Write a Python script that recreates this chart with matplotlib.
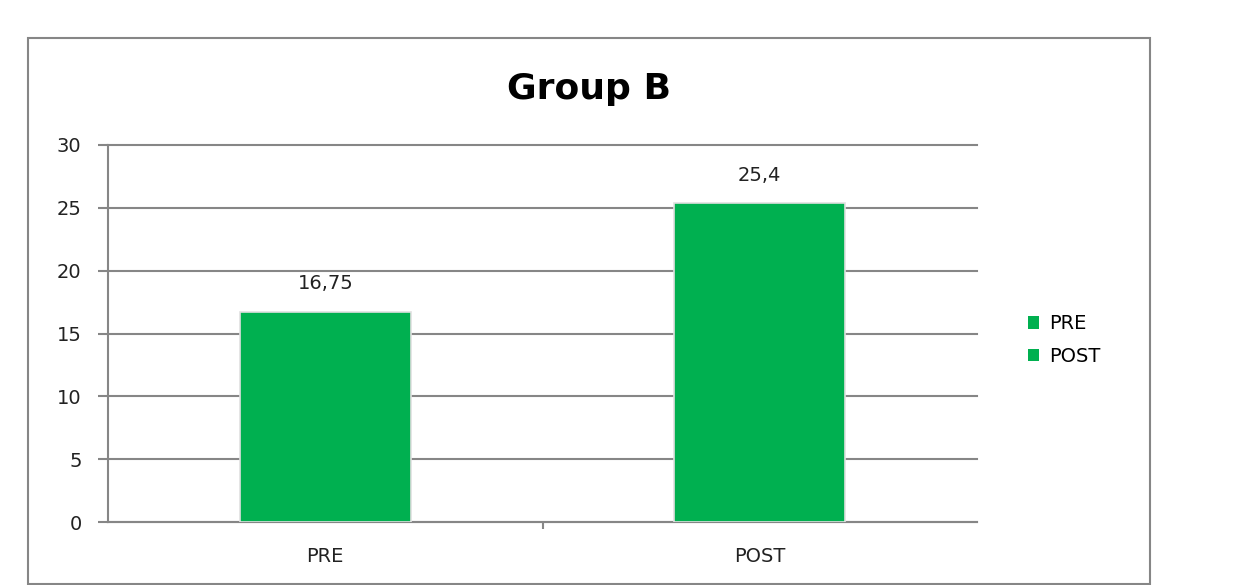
import matplotlib
matplotlib.use("Agg")
import matplotlib.pyplot as plt
from matplotlib.patches import Rectangle, Patch

# Datos de la gráfica
categories = ["PRE", "POST"]
values = [16.75, 25.4]
value_labels = ["16,75", "25,4"]
yticks = [0, 5, 10, 15, 20, 25, 30]

green = "#00B050"
gray = "#868686"

plt.rcParams['font.family'] = ['DejaVu Sans']

fig = plt.figure(figsize=(12.5, 5.85), dpi=100)

# marco exterior del gráfico
fig.patches.append(Rectangle((28 / 1250, 1 / 585), 1122 / 1250, 546 / 585,
                             transform=fig.transFigure, fill=False,
                             edgecolor=gray, linewidth=1.5))

ax = fig.add_axes([108 / 1250, 1 - 522 / 585, 869 / 1250, 377 / 585])

x = range(len(categories))
bars = ax.bar(x, values, width=0.394, color=green, edgecolor="#e0e0e0",
              linewidth=1.2, zorder=3)

for b, lab in zip(bars, value_labels):
    ax.text(b.get_x() + b.get_width() / 2, b.get_height() + 1.45, lab,
            ha="center", va="bottom", fontsize=14, color="#222222")

ax.set_xlim(-0.5, 1.5)
ax.set_ylim(0, 30)
ax.set_yticks(yticks)
ax.set_yticklabels([str(t) for t in yticks], fontsize=14, color="#222222")
ax.yaxis.grid(True, color=gray, linewidth=1.5, zorder=0)
ax.set_axisbelow(True)
# que la línea de 30 no quede cortada por el borde del eje
for gl in ax.get_ygridlines():
    gl.set_clip_on(False)

ax.set_xticks(list(x))
ax.set_xticklabels(categories, fontsize=14, color="#222222")
ax.tick_params(axis="x", length=0, pad=18)
ax.set_xticks([0.5], minor=True)
ax.tick_params(axis="x", which="minor", length=5, width=1.5, color=gray)
ax.tick_params(axis="y", length=7, width=1.5, color=gray, pad=12)

for s in ["top", "right"]:
    ax.spines[s].set_visible(False)
for s in ["left", "bottom"]:
    ax.spines[s].set_color(gray)
    ax.spines[s].set_linewidth(1.5)

fig.text(589 / 1250, 1 - 89 / 585, "Group B", ha="center", va="center",
         fontsize=26, fontweight="bold", color="#000000")

handles = [Patch(facecolor=green, label=c) for c in categories]
fig.legend(handles=handles, loc="center left",
           bbox_to_anchor=(1010 / 1250, 1 - 340 / 585), frameon=False,
           fontsize=14, handlelength=0.6, handleheight=0.6,
           handletextpad=0.5, labelspacing=0.7)

fig.savefig("out.png", dpi=100)
